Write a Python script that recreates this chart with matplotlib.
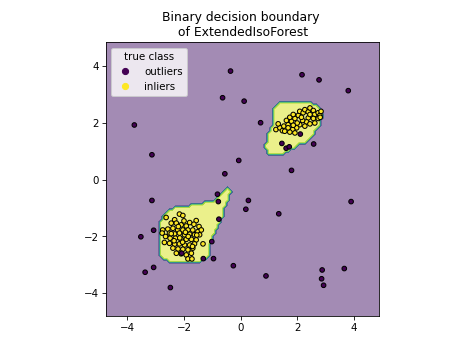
import numpy as np
import matplotlib
matplotlib.use("Agg")
import matplotlib.pyplot as plt
from matplotlib.path import Path

# outliers (true class -1)
outliers_x = [-0.36, -0.64, -3.75, -3.13, -0.07, -0.56, 2.16, 2.76, 3.79, 0.12,
              0.70, 2.10, 1.45, 1.60, 1.71, 2.57, 1.79, -0.82, -0.79, -3.13,
              -3.07, -3.52, -0.77, -1.02, -2.08, -1.32, -0.96, -0.26, -3.07, -3.37,
              -2.48, 0.27, 0.18, 1.34, 3.89, 0.89, 2.87, 2.85, 2.92, 3.65]
outliers_y = [3.83, 2.89, 1.93, 0.88, 0.68, 0.21, 3.70, 3.52, 3.14, 2.77,
              2.01, 1.61, 1.28, 1.11, 1.16, 1.26, 0.33, -0.51, -0.77, -0.73,
              -1.78, -2.01, -1.39, -2.18, -2.59, -2.78, -2.78, -3.03, -3.09, -3.26,
              -3.80, -0.73, -1.04, -1.20, -0.77, -3.39, -3.18, -3.49, -3.72, -3.13]

# inliers, lower-left cluster
low_x = [-2.16, -2.04, -2.63, -1.57, -2.33, -1.80, -1.65, -2.45, -2.27, -2.10,
         -1.92, -1.47, -2.75, -2.57, -2.39, -2.22, -2.04, -1.86, -1.69, -1.51,
         -2.51, -2.33, -2.16, -1.98, -1.80, -1.63, -2.65, -2.49, -2.30, -2.10,
         -1.92, -1.74, -1.57, -1.33, -2.69, -2.51, -2.33, -2.16, -1.98, -1.80,
         -1.63, -2.39, -2.21, -2.04, -1.86, -1.69, -2.27, -2.10, -1.92, -1.74,
         -1.86, -1.72, -2.77, -1.45, -1.39, -2.20, -1.95, -2.05, -2.35, -1.85,
         -2.15, -1.70, -2.45, -2.00, -1.55]
low_y = [-1.21, -1.26, -1.33, -1.44, -1.41, -1.51, -1.57, -1.53, -1.53, -1.59,
         -1.63, -1.65, -1.77, -1.74, -1.71, -1.77, -1.77, -1.77, -1.77, -1.83,
         -1.88, -1.91, -1.88, -1.94, -1.92, -1.94, -2.00, -2.06, -2.06, -2.10,
         -2.10, -2.10, -2.12, -2.26, -2.21, -2.24, -2.27, -2.26, -2.30, -2.30,
         -2.26, -2.41, -2.44, -2.45, -2.47, -2.41, -2.59, -2.61, -2.65, -2.59,
         -2.79, -2.79, -1.88, -1.94, -1.77, -1.65, -1.85, -2.20, -2.15, -2.00,
         -2.05, -2.35, -1.90, -1.45, -1.95]

# inliers, upper-right cluster
up_x = [1.24, 1.38, 1.52, 1.32, 1.67, 1.61, 1.79, 1.73, 1.91, 1.85,
        2.03, 2.08, 2.20, 2.26, 2.38, 2.44, 2.56, 2.61, 2.73, 2.79,
        2.73, 2.56, 2.38, 2.32, 2.18, 2.08, 1.97, 1.83, 1.73, 2.26,
        2.44, 2.61, 1.99, 1.47, 2.44, 2.14, 1.85, 1.67, 1.55, 2.83,
        2.80, 1.91]
up_y = [1.77, 1.83, 1.89, 1.97, 1.94, 2.09, 2.06, 2.20, 2.16, 2.30,
        2.27, 2.41, 2.36, 2.47, 2.39, 2.53, 2.44, 2.30, 2.36, 2.27,
        2.16, 2.16, 2.18, 2.04, 2.09, 1.94, 1.83, 1.77, 1.68, 1.89,
        1.97, 2.00, 2.00, 1.73, 2.30, 2.20, 1.92, 1.83, 1.71, 2.41,
        2.20, 1.65]

# inlier region of the fitted model, read as outlines
region_low_x = [-0.39, -0.35, -0.45, -0.57, -0.60, -0.68, -0.80, -0.92, -1.04, -1.10,
                -1.12, -1.21, -1.45, -2.04, -2.57, -2.77, -2.86, -2.89, -2.86, -2.77,
                -2.63, -2.39, -2.04, -1.57, -1.21, -0.92, -0.74, -0.60, -0.48]
region_low_y = [-0.26, -0.41, -0.71, -0.94, -1.18, -1.41, -1.65, -1.88, -2.18, -2.47,
                -2.71, -2.83, -2.86, -2.89, -2.86, -2.77, -2.53, -2.12, -1.65, -1.30,
                -1.12, -1.00, -0.94, -0.88, -0.80, -0.71, -0.59, -0.41, -0.26]
region_up_x = [1.20, 1.32, 1.55, 1.85, 2.20, 2.44, 2.67, 2.83, 2.86, 2.84,
               2.76, 2.61, 2.50, 2.40, 2.08, 1.85, 1.61, 1.32, 1.02, 0.91,
               0.88, 0.93, 1.02, 1.14, 1.17, 1.14]
region_up_y = [2.53, 2.67, 2.75, 2.77, 2.75, 2.71, 2.59, 2.47, 2.30, 2.06,
               1.88, 1.71, 1.53, 1.35, 1.24, 1.12, 0.98, 0.88, 0.88, 1.00,
               1.24, 1.47, 1.71, 1.94, 2.18, 2.41]

X = np.column_stack([
    np.concatenate([up_x, low_x, outliers_x]),
    np.concatenate([up_y, low_y, outliers_y]),
])
y = np.concatenate([np.ones(len(up_x) + len(low_x)), -np.ones(len(outliers_x))])

# prediction grid (same as a decision boundary display, eps=1, 100 points)
eps = 1.0
xx, yy = np.meshgrid(
    np.linspace(X[:, 0].min() - eps, X[:, 0].max() + eps, 100),
    np.linspace(X[:, 1].min() - eps, X[:, 1].max() + eps, 100),
)
grid = np.column_stack([xx.ravel(), yy.ravel()])
inside = np.zeros(len(grid), dtype=bool)
for rx, ry in [(region_low_x, region_low_y), (region_up_x, region_up_y)]:
    inside |= Path(np.column_stack([rx, ry])).contains_points(grid)
Z = np.where(inside, 1, -1).reshape(xx.shape)

fig, ax = plt.subplots(figsize=(6.4, 4.8), dpi=74)
ax.contourf(xx, yy, Z, alpha=0.5)
scatter = ax.scatter(X[:, 0], X[:, 1], c=y, s=20, edgecolor="k")
handles, labels = scatter.legend_elements()
ax.legend(handles=handles, labels=["outliers", "inliers"], title="true class",
          loc="upper left")
ax.axis("square")
ax.set_title("Binary decision boundary \nof ExtendedIsoForest")

plt.savefig("out.png")
